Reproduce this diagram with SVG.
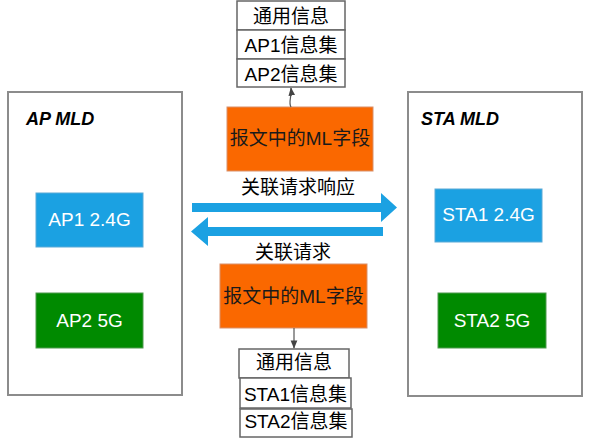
<svg xmlns="http://www.w3.org/2000/svg" width="589" height="443" viewBox="0 0 589 443">
<style>
text{font-family:"Liberation Sans","Noto Sans CJK SC",sans-serif;font-size:19px;text-anchor:middle}
.mld{fill:#fff;stroke:#8c8c8c;stroke-width:2}
.title{font-weight:bold;font-style:italic;font-size:18px;text-anchor:start;fill:#000}
.blue{fill:#1ba1e2;stroke:#5aa9d6;stroke-width:1}
.green{fill:#008a00;stroke:#4f9a4f;stroke-width:1}
.orange{fill:#fa6800;stroke:#d9906a;stroke-width:1}
.info{fill:#fff;stroke:#666;stroke-width:1.5}
.wt{fill:#fff}
.bt{fill:#000}
.ot{fill:#1a1a1a}
.conn{stroke:#555;stroke-width:1.2;fill:none}
.big{fill:#1ba1e2}
</style>
<defs>
<marker id="ah" viewBox="0 0 10 10" refX="9" refY="5" markerWidth="7" markerHeight="7" orient="auto">
<path d="M0,1 L10,5 L0,9 Z" fill="#444"/>
</marker>
</defs>
<g id="ap-mld">
<rect class="mld" x="8" y="92" width="174" height="303"/>
<text class="title" x="26" y="125">AP MLD</text>
</g>
<g id="sta-mld">
<rect class="mld" x="408" y="92" width="174" height="304"/>
<text class="title" x="421" y="125">STA MLD</text>
</g>
<g id="ap1">
<rect class="blue" x="36" y="193" width="107" height="54"/>
<text class="wt" x="89.5" y="226">AP1 2.4G</text>
</g>
<g id="ap2">
<rect class="green" x="36" y="293" width="107" height="55"/>
<text class="wt" x="89.5" y="327">AP2 5G</text>
</g>
<g id="sta1">
<rect class="blue" x="435" y="189" width="107" height="53"/>
<text class="wt" x="488.5" y="221">STA1 2.4G</text>
</g>
<g id="sta2">
<rect class="green" x="438" y="293" width="108" height="55"/>
<text class="wt" x="492" y="327">STA2 5G</text>
</g>
<g id="ml-top">
<rect class="orange" x="227" y="107" width="146" height="64"/>
<text class="ot" x="300" y="145">报文中的ML字段</text>
</g>
<g id="ml-bottom">
<rect class="orange" x="220" y="264" width="147" height="64"/>
<text class="ot" x="293.5" y="303">报文中的ML字段</text>
</g>
<g id="top-common">
<rect class="info" x="237" y="1" width="108" height="29"/>
<text class="bt" x="291" y="23">通用信息</text>
</g>
<g id="top-ap1">
<rect class="info" x="237" y="30" width="108" height="29"/>
<text class="bt" x="291" y="52">AP1信息集</text>
</g>
<g id="top-ap2">
<rect class="info" x="237" y="59" width="108" height="28"/>
<text class="bt" x="291" y="81">AP2信息集</text>
</g>
<g id="bot-common">
<rect class="info" x="239" y="349" width="110" height="29"/>
<text class="bt" x="294" y="369">通用信息</text>
</g>
<g id="bot-sta1">
<rect class="info" x="240" y="378" width="111" height="30"/>
<text class="bt" x="295.5" y="401">STA1信息集</text>
</g>
<g id="bot-sta2">
<rect class="info" x="240" y="409" width="112" height="28"/>
<text class="bt" x="296" y="428">STA2信息集</text>
</g>
<g id="connectors">
<path class="conn" d="M291,107 C288,102 292,97 291,88" marker-end="url(#ah)"/>
<path class="conn" d="M294,328 L294,348" marker-end="url(#ah)"/>
<polygon class="big" points="192,203 381,203 381,193 397,207.5 381,222 381,212 192,212"/>
<polygon class="big" points="383,227 208,227 208,217 191,231.5 208,246 208,236 383,236"/>
<text class="bt" x="298" y="194">关联请求响应</text>
<text class="bt" x="293" y="259">关联请求</text>
</g>
</svg>
